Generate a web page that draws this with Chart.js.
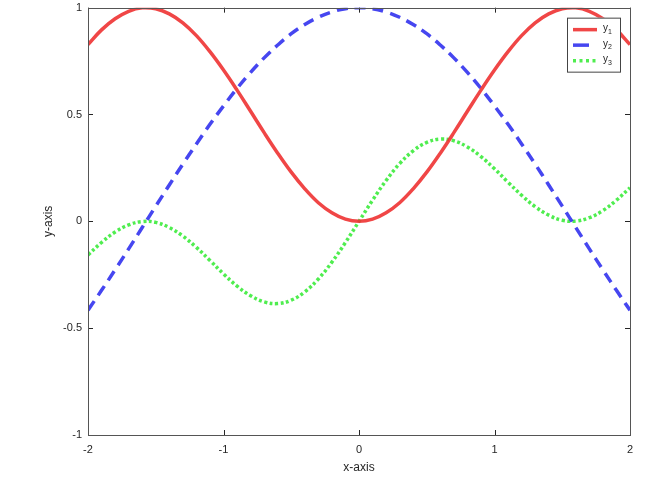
<!DOCTYPE html>
<html>
<head>
<meta charset="utf-8">
<script src="https://cdn.jsdelivr.net/npm/chart.js@4/dist/chart.umd.min.js"></script>
<style>
  html, body { margin: 0; padding: 0; background: #fff; }
  #wrap { width: 661px; height: 486px; }
</style>
</head>
<body>
<div id="wrap"><canvas id="chart"></canvas></div>
<script>
// x positions, step 0.1
const xValues = [-2.0, -1.9, -1.8, -1.7, -1.6, -1.5, -1.4, -1.3, -1.2, -1.1, -1.0,
    -0.9, -0.8, -0.7, -0.6, -0.5, -0.4, -0.3, -0.2, -0.1, 0.0,
    0.1, 0.2, 0.3, 0.4, 0.5, 0.6, 0.7, 0.8, 0.9, 1.0,
    1.1, 1.2, 1.3, 1.4, 1.5, 1.6, 1.7, 1.8, 1.9, 2.0];

const y1Values = [0.827, 0.896, 0.948, 0.983, 0.999, 0.995, 0.971, 0.929, 0.869, 0.794, 0.708,
    0.614, 0.515, 0.415, 0.319, 0.230, 0.152, 0.087, 0.040, 0.010, 0.000,
    0.010, 0.040, 0.087, 0.152, 0.230, 0.319, 0.415, 0.515, 0.614, 0.708,
    0.794, 0.869, 0.929, 0.971, 0.995, 0.999, 0.983, 0.948, 0.896, 0.827];

const y2Values = [-0.416, -0.323, -0.227, -0.129, -0.029, 0.071, 0.170, 0.268, 0.362, 0.454, 0.540,
    0.622, 0.697, 0.765, 0.825, 0.878, 0.921, 0.955, 0.980, 0.995, 1.000,
    0.995, 0.980, 0.955, 0.921, 0.878, 0.825, 0.765, 0.697, 0.622, 0.540,
    0.454, 0.362, 0.268, 0.170, 0.071, -0.029, -0.129, -0.227, -0.323, -0.416];

const y3Values = [-0.157, -0.099, -0.050, -0.017, -0.001, -0.005, -0.029, -0.069, -0.122, -0.183, -0.246,
    -0.303, -0.348, -0.377, -0.385, -0.369, -0.330, -0.270, -0.191, -0.099, 0.000,
    0.099, 0.191, 0.270, 0.330, 0.369, 0.385, 0.377, 0.348, 0.303, 0.246,
    0.183, 0.122, 0.069, 0.029, 0.005, 0.001, 0.017, 0.050, 0.099, 0.157];

const xTicks = [-2, -1, 0, 1, 2];
const yTicks = [-1, -0.5, 0, 0.5, 1];
const seriesNames = ['y', 'y', 'y'];
const seriesSubs = ['1', '2', '3'];

function toPoints(ys) {
    return xValues.map((x, i) => ({ x: x, y: ys[i] }));
}

const FONT = '"Liberation Sans", Arial, sans-serif';
const TEXT = '#262626';

// box around the plot with small ticks pointing inwards on all four sides
const boxPlugin = {
    id: 'box',
    afterDatasetsDraw(chart) {
        const ctx = chart.ctx;
        const a = chart.chartArea;
        const xs = chart.scales.x;
        const ys = chart.scales.y;
        ctx.save();
        ctx.strokeStyle = '#262626';
        ctx.lineWidth = 1;
        ctx.beginPath();
        xTicks.forEach(t => {
            const px = Math.round(xs.getPixelForValue(t)) + 0.5;
            ctx.moveTo(px, a.bottom); ctx.lineTo(px, a.bottom - 5);
            ctx.moveTo(px, a.top); ctx.lineTo(px, a.top + 5);
        });
        yTicks.forEach(t => {
            const py = Math.round(ys.getPixelForValue(t)) + 0.5;
            ctx.moveTo(a.left, py); ctx.lineTo(a.left + 5, py);
            ctx.moveTo(a.right, py); ctx.lineTo(a.right - 5, py);
        });
        ctx.stroke();
        ctx.strokeStyle = '#555';
        ctx.strokeRect(Math.round(a.left) + 0.5, Math.round(a.top) + 0.5,
            Math.round(a.right - a.left), Math.round(a.bottom - a.top));
        ctx.restore();
    }
};

// legend drawn inside the plot, top right
const legendPlugin = {
    id: 'insideLegend',
    afterDraw(chart) {
        const ctx = chart.ctx;
        const a = chart.chartArea;
        const bx = a.right - 63, by = a.top + 10, bw = 53, bh = 54;
        ctx.save();
        ctx.fillStyle = '#fff';
        ctx.fillRect(bx, by, bw, bh);
        ctx.strokeStyle = '#444';
        ctx.lineWidth = 1;
        ctx.strokeRect(bx + 0.5, by + 0.5, bw, bh);
        chart.data.datasets.forEach((ds, i) => {
            const ly = by + 12 + i * 15.5;
            ctx.strokeStyle = ds.borderColor;
            ctx.lineWidth = ds.borderWidth;
            ctx.setLineDash(ds.legendDash || []);
            ctx.beginPath();
            ctx.moveTo(bx + 6, ly);
            ctx.lineTo(bx + 6 + ds.legendLen, ly);
            ctx.stroke();
            ctx.setLineDash([]);
            ctx.fillStyle = TEXT;
            ctx.textBaseline = 'middle';
            ctx.textAlign = 'left';
            ctx.font = '10px ' + FONT;
            ctx.fillText(seriesNames[i], bx + 36, ly - 1);
            ctx.font = '7px ' + FONT;
            ctx.fillText(seriesSubs[i], bx + 41, ly + 2);
        });
        ctx.restore();
    }
};

const ctx = document.getElementById('chart').getContext('2d');
new Chart(ctx, {
    type: 'line',
    data: {
        datasets: [{
            label: 'y1',
            data: toPoints(y1Values),
            borderColor: 'rgba(238, 50, 50, 0.9)',
            borderWidth: 3.5,
            legendLen: 24
        }, {
            label: 'y2',
            data: toPoints(y2Values),
            borderColor: 'rgba(50, 50, 238, 0.9)',
            borderWidth: 3.5,
            borderDash: [11, 7],
            legendDash: [],
            legendLen: 16
        }, {
            label: 'y3',
            data: toPoints(y3Values),
            borderColor: 'rgba(60, 235, 60, 0.9)',
            borderWidth: 3.5,
            borderDash: [3, 2.5],
            legendDash: [3, 3.5],
            legendLen: 25
        }]
    },
    options: {
        responsive: true,
        maintainAspectRatio: false,
        animation: false,
        layout: { padding: { top: 7, right: 31, left: 0, bottom: 0 } },
        elements: {
            point: { radius: 0 },
            line: { tension: 0.4, fill: false }
        },
        plugins: {
            legend: { display: false },
            tooltip: { enabled: false }
        },
        scales: {
            x: {
                type: 'linear',
                min: -2,
                max: 2,
                grid: { display: false, drawTicks: false },
                border: { display: false },
                afterBuildTicks: axis => { axis.ticks = xTicks.map(v => ({ value: v })); },
                afterFit: axis => { axis.height = 51; },
                ticks: {
                    padding: 8,
                    color: TEXT,
                    font: { family: FONT, size: 11 },
                    callback: v => String(v)
                },
                title: {
                    display: true,
                    text: 'x-axis',
                    color: TEXT,
                    font: { family: FONT, size: 12 },
                    padding: { top: 2, bottom: 11 }
                }
            },
            y: {
                type: 'linear',
                min: -1,
                max: 1,
                grid: { display: false, drawTicks: false },
                border: { display: false },
                afterBuildTicks: axis => { axis.ticks = yTicks.map(v => ({ value: v })); },
                afterFit: axis => { axis.width = 88; },
                ticks: {
                    padding: 6,
                    color: TEXT,
                    font: { family: FONT, size: 11, lineHeight: 0.3 },
                    callback: v => String(v)
                },
                title: {
                    display: true,
                    text: 'y-axis',
                    color: TEXT,
                    font: { family: FONT, size: 12 },
                    padding: { top: 41, bottom: 0 }
                }
            }
        }
    },
    plugins: [boxPlugin, legendPlugin]
});
</script>
</body>
</html>
